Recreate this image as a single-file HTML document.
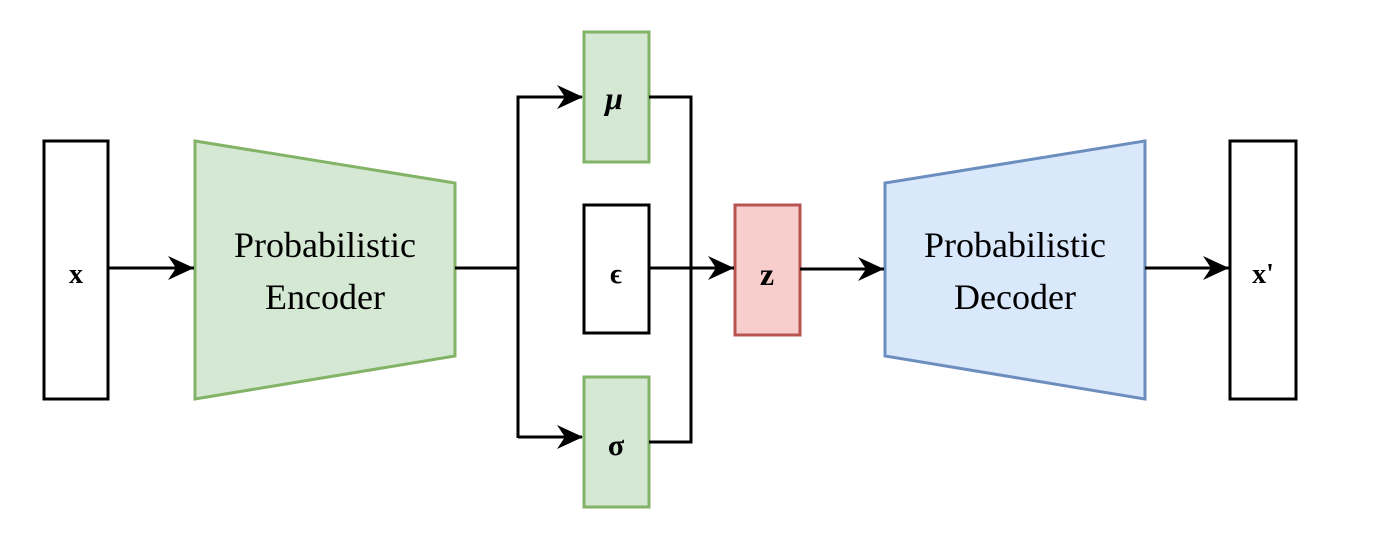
<!DOCTYPE html>
<html><head><meta charset="utf-8"><style>
html,body{margin:0;padding:0;background:#fff;width:1400px;height:546px;overflow:hidden}
svg text{font-family:"Liberation Serif",serif;fill:#000}
</style></head><body>
<svg width="1400" height="546" viewBox="0 0 1400 546" xmlns="http://www.w3.org/2000/svg">
<defs><marker id="a" markerWidth="10" markerHeight="10" refX="9" refY="5" orient="auto" markerUnits="userSpaceOnUse" viewBox="0 0 10 10"><path d="M0,0 L10,5 L0,10 L3,5 Z" fill="#000"/></marker></defs>
<g stroke-width="3" fill="none">
<rect x="44" y="141" width="64" height="258" stroke="#000" fill="#fff"/>
<polygon points="195,141 455,183 455,356 195,399" fill="#d5e8d4" stroke="#82b366"/>
<rect x="584" y="32" width="65" height="130" fill="#d5e8d4" stroke="#82b366"/>
<rect x="584" y="205" width="65" height="128" fill="#fff" stroke="#000"/>
<rect x="584" y="377" width="65" height="130" fill="#d5e8d4" stroke="#82b366"/>
<rect x="735" y="205" width="65" height="130" fill="#f8cecc" stroke="#b85450"/>
<polygon points="885,183 1145,141 1145,399 885,356" fill="#dae8fc" stroke="#6c8ebf"/>
<rect x="1230" y="141" width="66" height="258" stroke="#000" fill="#fff"/>
</g>
<g stroke="#000" stroke-width="3" fill="none">
<line x1="108" y1="268" x2="194" y2="268"/>
<polygon points="194,268 168,256 176,268 168,280" fill="#000" stroke="none"/>
<polyline points="455,268 518,268"/>
<polyline points="518,438 518,97 582,97"/>
<polygon points="583,97 557,85 565,97 557,109" fill="#000" stroke="none"/>
<polyline points="518,437 582,437"/>
<polygon points="583,437 557,425 565,437 557,449" fill="#000" stroke="none"/>
<polyline points="649,97 691,97 691,442 649,442"/>
<line x1="649" y1="268" x2="734" y2="268"/>
<polygon points="734,268 708,256 716,268 708,280" fill="#000" stroke="none"/>
<line x1="800" y1="269" x2="884" y2="269"/>
<polygon points="884,269 858,257 866,269 858,281" fill="#000" stroke="none"/>
<line x1="1145" y1="268" x2="1229" y2="268"/>
<polygon points="1229,268 1203,256 1211,268 1203,280" fill="#000" stroke="none"/>
</g>
<text x="76" y="283" font-size="28" font-weight="bold" text-anchor="middle">x</text>
<text x="325" y="257" font-size="36" text-anchor="middle">Probabilistic</text>
<text x="325" y="309" font-size="36" text-anchor="middle">Encoder</text>
<text x="614" y="109" font-size="32" font-weight="bold" font-style="italic" text-anchor="middle">μ</text>
<text x="616" y="283" font-size="28" font-weight="bold" text-anchor="middle">ϵ</text>
<text x="616" y="455" font-size="30" font-weight="bold" text-anchor="middle">σ</text>
<text x="767" y="285" font-size="32" font-weight="bold" text-anchor="middle">z</text>
<text x="1015" y="257" font-size="36" text-anchor="middle">Probabilistic</text>
<text x="1015" y="309" font-size="36" text-anchor="middle">Decoder</text>
<text x="1263" y="283" font-size="28" font-weight="bold" text-anchor="middle">x'</text>
</svg>
</body></html>
